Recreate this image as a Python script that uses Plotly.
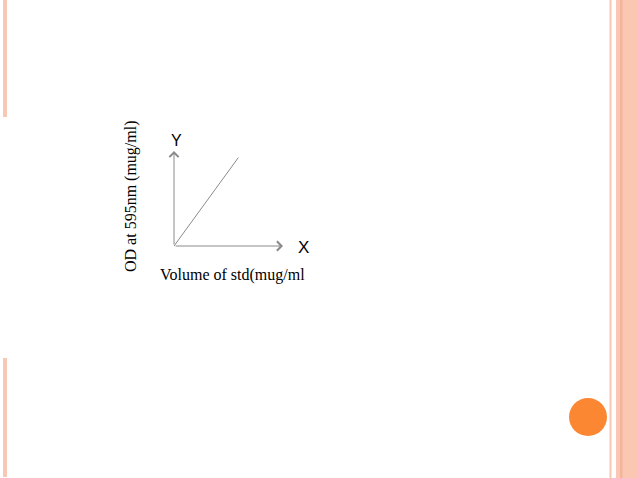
import plotly.graph_objects as go

# sketch of a standard curve: volume of std vs OD
std_volume = [0, 5.9]
od_595 = [0, 9.3]
axis_max = 10

x_title = "Volume of std(mug/ml"
y_title = "OD at 595nm (mug/ml)"

W, H = 638, 478


def px(x):
    return x / W


def py(y):
    return 1 - y / H


salmon = "#f9c8b4"
salmon_dark = "#f3b49c"
grey = "#8a8a8a"

fig = go.Figure()

fig.add_trace(go.Scatter(
    x=std_volume, y=od_595, mode="lines",
    line=dict(color=grey, width=1), cliponaxis=False,
    hoverinfo="skip", showlegend=False,
))

# slide decoration: side bars and orange dot
shapes = [
    dict(type="rect", xref="paper", yref="paper", x0=px(3), x1=px(7), y0=py(117), y1=py(0),
         fillcolor=salmon, line_width=0, layer="below"),
    dict(type="rect", xref="paper", yref="paper", x0=px(3), x1=px(7), y0=py(477), y1=py(358),
         fillcolor=salmon, line_width=0, layer="below"),
    dict(type="rect", xref="paper", yref="paper", x0=px(609.5), x1=px(611.5), y0=0, y1=1,
         fillcolor=salmon, line_width=0, layer="below"),
    dict(type="rect", xref="paper", yref="paper", x0=px(616), x1=px(638), y0=0, y1=1,
         fillcolor="#fbc7b3", line_width=0, layer="below"),
    dict(type="rect", xref="paper", yref="paper", x0=px(620), x1=px(622.5), y0=0, y1=1,
         fillcolor=salmon_dark, line_width=0, layer="below"),
    dict(type="circle", xref="paper", yref="paper", x0=px(569), x1=px(607), y0=py(436), y1=py(398),
         fillcolor="#fb8733", line_width=0),
]


def label(x, y, text, family, size, angle=0):
    return dict(x=px(x), y=py(y), xref="paper", yref="paper", text=text, showarrow=False,
                xanchor="center", yanchor="middle", textangle=angle,
                font=dict(family=family, size=size, color="black"))


annotations = [
    # axes drawn as arrows from the origin
    dict(x=0, y=axis_max, ax=0, ay=0, xref="x", yref="y", axref="x", ayref="y",
         text="", showarrow=True, arrowhead=4, arrowsize=1.8, arrowwidth=1, arrowcolor=grey),
    dict(x=axis_max, y=0, ax=0, ay=0, xref="x", yref="y", axref="x", ayref="y",
         text="", showarrow=True, arrowhead=4, arrowsize=1.8, arrowwidth=1, arrowcolor=grey),
    label(176, 141, "Y", "Liberation Sans", 16),
    label(303, 247, "X", "Liberation Sans", 17),
    label(232, 275, x_title, "Liberation Serif", 16),
    label(131, 196, y_title, "Liberation Serif", 16, angle=-90),
]

fig.update_layout(
    width=W, height=H, autosize=False,
    margin=dict(l=0, r=0, t=0, b=0),
    paper_bgcolor="white", plot_bgcolor="rgba(0,0,0,0)",
    shapes=shapes, annotations=annotations,
    xaxis=dict(domain=[px(174), px(283)], range=[0, axis_max], visible=False, fixedrange=True),
    yaxis=dict(domain=[py(246), py(151)], range=[0, axis_max], visible=False, fixedrange=True),
    showlegend=False,
)

# page has a default 8px body margin; drop it so the slide fills the window
fig.write_html("out.html", config={"displayModeBar": False},
               post_script="document.body.style.margin='0';")
